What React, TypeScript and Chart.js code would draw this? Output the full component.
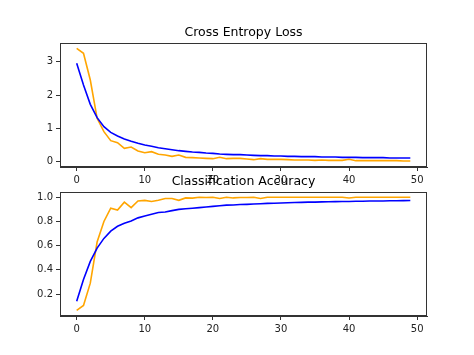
import React, { useEffect, useRef } from "react";
import { Chart, registerables } from "chart.js";

Chart.register(...registerables);

const epochs: number[] = Array.from({ length: 50 }, (_, i) => i);

const trainLoss: number[] = [
  2.95, 2.3, 1.72, 1.32, 1.05, 0.88, 0.77, 0.68, 0.61, 0.55,
  0.5, 0.46, 0.42, 0.39, 0.36, 0.33, 0.31, 0.29, 0.28, 0.26,
  0.25, 0.23, 0.22, 0.21, 0.21, 0.2, 0.19, 0.18, 0.18, 0.17,
  0.17, 0.16, 0.16, 0.15, 0.15, 0.15, 0.14, 0.14, 0.14, 0.13,
  0.13, 0.13, 0.12, 0.12, 0.12, 0.12, 0.11, 0.11, 0.11, 0.11,
];
const valLoss: number[] = [
  3.4, 3.25, 2.45, 1.3, 0.9, 0.63, 0.57, 0.4, 0.44, 0.32,
  0.27, 0.3, 0.22, 0.2, 0.16, 0.2, 0.13, 0.12, 0.11, 0.1,
  0.09, 0.13, 0.09, 0.1, 0.1, 0.08, 0.06, 0.09, 0.07, 0.07,
  0.07, 0.06, 0.05, 0.05, 0.05, 0.04, 0.05, 0.04, 0.04, 0.04,
  0.07, 0.03, 0.03, 0.03, 0.03, 0.03, 0.03, 0.03, 0.02, 0.02,
];
const trainAcc: number[] = [
  0.14, 0.32, 0.47, 0.58, 0.66, 0.72, 0.76, 0.785, 0.805, 0.83,
  0.845, 0.86, 0.875, 0.878, 0.89, 0.9, 0.905, 0.91, 0.915, 0.92,
  0.925, 0.93, 0.935, 0.937, 0.94, 0.942, 0.945, 0.947, 0.95, 0.951,
  0.953, 0.955, 0.957, 0.958, 0.96, 0.96, 0.962, 0.963, 0.964, 0.965,
  0.966, 0.967, 0.968, 0.969, 0.97, 0.97, 0.971, 0.972, 0.973, 0.974,
];
const valAcc: number[] = [
  0.065, 0.105, 0.29, 0.63, 0.8, 0.91, 0.895, 0.96, 0.915, 0.97,
  0.975, 0.965, 0.975, 0.99, 0.99, 0.975, 0.995, 0.993, 1.0, 0.998,
  1.0, 0.99, 1.0, 0.995, 0.998, 0.998, 1.0, 0.99, 1.0, 1.0,
  1.0, 1.0, 1.0, 1.0, 1.0, 1.0, 1.0, 1.0, 1.0, 1.0,
  0.995, 1.0, 1.0, 1.0, 1.0, 1.0, 1.0, 1.0, 1.0, 1.0,
];

const xTicks: number[] = [0, 10, 20, 30, 40, 50];
const lossTicks: number[] = [0, 1, 2, 3];
const accTicks: number[] = [0.2, 0.4, 0.6, 0.8, 1.0];

const FONT = "'DejaVu Sans', sans-serif";
const TICK_COLOR = "#222";
const SPINE = "#333";

const boxPlugin = {
  id: "boxFrame",
  afterDraw(chart: any) {
    const { ctx, chartArea } = chart;
    ctx.save();
    ctx.strokeStyle = SPINE;
    ctx.lineWidth = 1;
    const l = Math.round(chartArea.left) + 0.5;
    const t = Math.round(chartArea.top) + 0.5;
    const r = Math.round(chartArea.right) - 0.5;
    const b = Math.round(chartArea.bottom) - 0.5;
    ctx.strokeRect(l, t, r - l, b - t);
    ctx.restore();
  },
};

function makeConfig(
  title: string,
  train: number[],
  val: number[],
  yMin: number,
  yMax: number,
  yTicks: number[],
  yFmt: (v: number) => string,
  titlePad: { top: number; bottom: number },
  xHeight: number
): any {
  const grid = {
    display: true,
    drawOnChartArea: false,
    drawTicks: true,
    tickLength: 4,
    color: SPINE,
  };
  return {
    type: "line",
    data: {
      datasets: [
        {
          label: "train",
          data: epochs.map((e, i) => ({ x: e, y: train[i] })),
          borderColor: "#0000ff",
          borderWidth: 1.6,
          pointRadius: 0,
          tension: 0,
          fill: false,
        },
        {
          label: "test",
          data: epochs.map((e, i) => ({ x: e, y: val[i] })),
          borderColor: "#ffa500",
          borderWidth: 1.6,
          pointRadius: 0,
          tension: 0,
          fill: false,
        },
      ],
    },
    options: {
      responsive: false,
      animation: false,
      layout: { padding: { left: 13, right: 0, top: 0, bottom: 0 } },
      plugins: {
        legend: { display: false },
        tooltip: { enabled: false },
        title: {
          display: true,
          text: title,
          color: "#000",
          font: { family: FONT, size: 12.5, weight: "normal", lineHeight: 1.2 },
          padding: titlePad,
        },
      },
      scales: {
        x: {
          type: "linear",
          min: -2.45,
          max: 51.45,
          afterBuildTicks: (s: any) => {
            s.ticks = xTicks.map((v) => ({ value: v }));
          },
          afterFit: (s: any) => {
            s.height = xHeight;
          },
          grid,
          border: { display: true, color: SPINE, width: 1 },
          ticks: {
            color: TICK_COLOR,
            font: { family: FONT, size: 10 },
            padding: 3,
            maxRotation: 0,
            autoSkip: false,
            callback: (v: any) => String(v),
          },
        },
        y: {
          type: "linear",
          position: "left",
          min: yMin,
          max: yMax,
          afterBuildTicks: (s: any) => {
            s.ticks = yTicks.map((v) => ({ value: v }));
          },
          afterFit: (s: any) => {
            s.width = 47;
          },
          grid,
          border: { display: true, color: SPINE, width: 1 },
          ticks: {
            color: TICK_COLOR,
            font: { family: FONT, size: 10 },
            padding: 3,
            autoSkip: false,
            callback: (v: any) => yFmt(Number(v)),
          },
        },
        y2: {
          type: "linear",
          position: "right",
          display: true,
          min: yMin,
          max: yMax,
          grid: { display: false },
          border: { display: false },
          ticks: { display: false },
          afterFit: (s: any) => {
            s.width = 47;
          },
        },
      },
    },
    plugins: [boxPlugin],
  };
}

export default function App() {
  const topRef = useRef<HTMLCanvasElement | null>(null);
  const botRef = useRef<HTMLCanvasElement | null>(null);

  useEffect(() => {
    const c1 = new Chart(
      topRef.current as HTMLCanvasElement,
      makeConfig(
        "Cross Entropy Loss",
        trainLoss,
        valLoss,
        -0.16,
        3.56,
        lossTicks,
        (v) => String(Math.round(v)),
        { top: 25, bottom: 3 },
        23
      )
    );
    const c2 = new Chart(
      botRef.current as HTMLCanvasElement,
      makeConfig(
        "Classification Accuracy",
        trainAcc,
        valAcc,
        0.018,
        1.044,
        accTicks,
        (v) => v.toFixed(1),
        { top: 14.5, bottom: 2.5 },
        39
      )
    );
    return () => {
      c1.destroy();
      c2.destroy();
    };
  }, []);

  return (
    <div
      style={{
        position: "fixed",
        left: 0,
        top: 0,
        width: 474,
        height: 355,
        background: "#fff",
      }}
    >
      <canvas
        ref={topRef}
        width={474}
        height={190}
        style={{ position: "absolute", left: 0, top: 0, width: 474, height: 190 }}
      />
      <canvas
        ref={botRef}
        width={474}
        height={195}
        style={{ position: "absolute", left: 0, top: 160, width: 474, height: 195 }}
      />
    </div>
  );
}
